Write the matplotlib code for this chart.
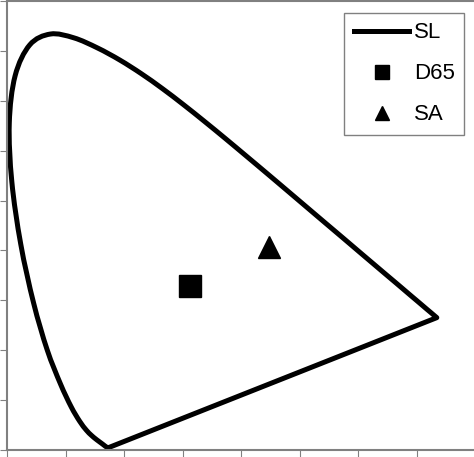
import numpy as np
import matplotlib.pyplot as plt
from matplotlib.path import Path
from matplotlib.patches import PathPatch
from matplotlib.lines import Line2D

plt.rcParams['font.family'] = ['Liberation Sans', 'DejaVu Sans']

# CIE 1931 spectral locus (380-700 nm, 5 nm steps)
sl_x = [0.1741, 0.1740, 0.1738, 0.1736, 0.1733, 0.1730, 0.1726, 0.1721,
        0.1714, 0.1703, 0.1689, 0.1669, 0.1644, 0.1611, 0.1566, 0.1510,
        0.1440, 0.1355, 0.1241, 0.1096, 0.0913, 0.0687, 0.0454, 0.0235,
        0.0082, 0.0039, 0.0139, 0.0389, 0.0743, 0.1142, 0.1547, 0.1929,
        0.2296, 0.2658, 0.3016, 0.3373, 0.3731, 0.4087, 0.4441, 0.4788,
        0.5125, 0.5448, 0.5752, 0.6029, 0.6270, 0.6482, 0.6658, 0.6801,
        0.6915, 0.7006, 0.7079, 0.7140, 0.7190, 0.7230, 0.7260, 0.7283,
        0.7300, 0.7311, 0.7320, 0.7327, 0.7334, 0.7340, 0.7344, 0.7346,
        0.7347]
sl_y = [0.0050, 0.0050, 0.0049, 0.0049, 0.0048, 0.0048, 0.0048, 0.0048,
        0.0051, 0.0058, 0.0069, 0.0086, 0.0109, 0.0138, 0.0177, 0.0227,
        0.0297, 0.0399, 0.0578, 0.0868, 0.1327, 0.2007, 0.2950, 0.4127,
        0.5384, 0.6548, 0.7502, 0.8120, 0.8338, 0.8262, 0.8059, 0.7816,
        0.7543, 0.7243, 0.6923, 0.6589, 0.6245, 0.5896, 0.5547, 0.5202,
        0.4866, 0.4544, 0.4242, 0.3965, 0.3725, 0.3514, 0.3340, 0.3197,
        0.3083, 0.2993, 0.2920, 0.2859, 0.2809, 0.2770, 0.2740, 0.2717,
        0.2700, 0.2689, 0.2680, 0.2673, 0.2666, 0.2660, 0.2656, 0.2654,
        0.2653]

d65 = (0.3127, 0.3290)
sa = (0.4476, 0.4074)

W, H = 474, 457
fig = plt.figure(figsize=(W / 100, H / 100), dpi=100)
ax = fig.add_axes([7 / W, 7 / H, 468 / W, 449 / H])

# smoothed line like Excel: bezier segments through the data points,
# then the straight purple line back to the start
pts = np.column_stack([sl_x, sl_y])
verts = [pts[0]]
codes = [Path.MOVETO]
n = len(pts)
for i in range(n - 1):
    p0 = pts[max(i - 1, 0)]
    p1 = pts[i]
    p2 = pts[i + 1]
    p3 = pts[min(i + 2, n - 1)]
    verts += [p1 + (p2 - p0) / 6, p2 - (p3 - p1) / 6, p2]
    codes += [Path.CURVE4] * 3
verts += [pts[0], pts[0]]
codes += [Path.LINETO, Path.CLOSEPOLY]
locus = PathPatch(Path(verts, codes), facecolor='none', edgecolor='black',
                  lw=3.6, joinstyle='round')
ax.add_patch(locus)

ax.plot(*d65, marker='s', ms=16, color='black', ls='none')
ax.plot(*sa, marker='^', ms=16, color='black', ls='none')

ax.set_xlim(0, 0.8)
ax.set_ylim(0, 0.9)
ax.set_xticks(np.arange(0, 0.81, 0.1))
ax.set_yticks(np.arange(0, 0.91, 0.1))
ax.tick_params(direction='out', length=5, width=0.8, color='#808080',
               labelleft=False, labelbottom=False)
for s in ax.spines.values():
    s.set_color('#808080')
    s.set_linewidth(1.5)

handles = [
    Line2D([], [], color='black', lw=3.6),
    Line2D([], [], color='black', marker='s', ms=9.5, ls='none'),
    Line2D([], [], color='black', marker='^', ms=10.5, ls='none'),
]
leg = ax.legend(handles, ['SL', 'D65', 'SA'], loc='upper right',
                bbox_to_anchor=(464 / W, 1 - 13 / H),
                bbox_transform=fig.transFigure, borderaxespad=0,
                fontsize=16, handlelength=2.5, handletextpad=0.2,
                labelspacing=0.9, borderpad=0.42,
                fancybox=False, framealpha=1, edgecolor='#808080')
leg.get_frame().set_linewidth(1)

fig.savefig('out.png', dpi=100)
